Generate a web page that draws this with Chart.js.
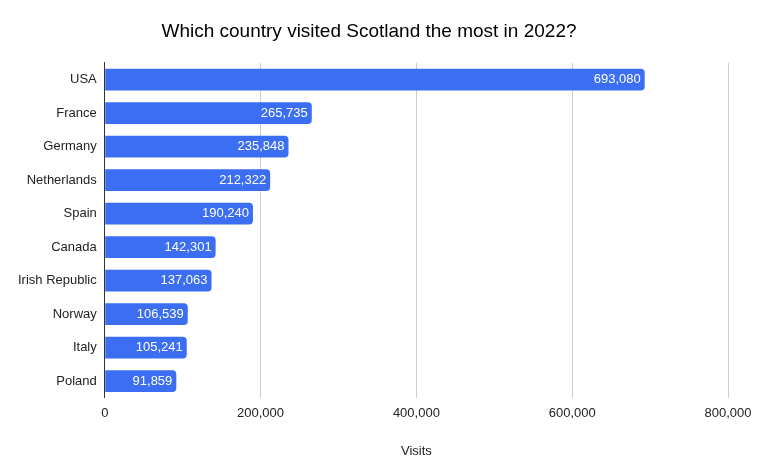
<!DOCTYPE html>
<html><head><meta charset="utf-8">
<script src="https://cdn.jsdelivr.net/npm/chart.js@4"></script>
<style>html,body{margin:0;background:#fff}#w{width:768px;height:473px}</style>
</head><body><div id="w"><canvas id="c"></canvas></div>
<script>
const categories=["USA","France","Germany","Netherlands","Spain","Canada","Irish Republic","Norway","Italy","Poland"];
const visits=[693080,265735,235848,212322,190240,142301,137063,106539,105241,91859];
const xTicks=[0,200000,400000,600000,800000];
const fmt=v=>v.toLocaleString('en-US');
const labelPlugin={id:'lbl',afterDatasetsDraw(ch){const ctx=ch.ctx;ch.getDatasetMeta(0).data.forEach((b,i)=>{ctx.save();ctx.fillStyle='#fff';ctx.font='13px "Helvetica Neue", Arial, "Liberation Sans", sans-serif';ctx.textAlign='right';ctx.textBaseline='middle';ctx.fillText(fmt(visits[i]),b.x-4,b.y);ctx.restore();});}};
new Chart(document.getElementById('c'),{type:'bar',data:{labels:categories,datasets:[{data:visits,backgroundColor:'#3b6ef2',borderRadius:{topRight:4,bottomRight:4},borderSkipped:'start',categoryPercentage:0.65,barPercentage:1}]},
options:{indexAxis:'y',responsive:true,maintainAspectRatio:false,animation:false,
layout:{padding:{left:10,right:40,top:5,bottom:10}},
plugins:{legend:{display:false},tooltip:{enabled:false},title:{display:true,text:'Which country visited Scotland the most in 2022?',color:'#000',font:{size:19,family:'"Helvetica Neue", Arial, "Liberation Sans", sans-serif',weight:'normal'},padding:{top:15,bottom:20}}},
scales:{x:{min:0,max:800000,afterBuildTicks(s){s.ticks=xTicks.map(v=>({value:v}));},ticks:{color:'#222',font:{size:13},padding:8,callback:v=>fmt(v)},grid:{color:'#ccc',drawTicks:false},border:{display:false},title:{display:true,text:'Visits',color:'#222',font:{size:13},padding:{top:14}}},
y:{ticks:{color:'#222',font:{size:13},padding:8},grid:{display:false,drawTicks:false},border:{color:'#333'}}}},plugins:[labelPlugin]});
</script></body></html>
